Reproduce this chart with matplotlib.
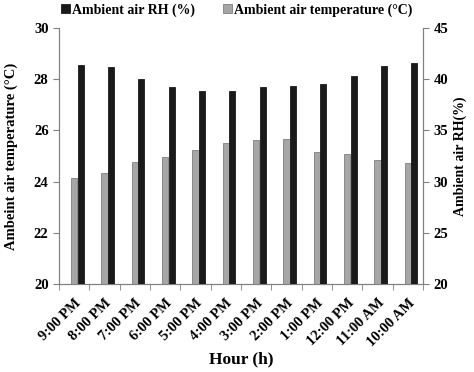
import numpy as np
import matplotlib
matplotlib.use("Agg")
from matplotlib import pyplot as plt

hours = ["9:00 PM", "8:00 PM", "7:00 PM", "6:00 PM", "5:00 PM", "4:00 PM",
         "3:00 PM", "2:00 PM", "1:00 PM", "12:00 PM", "11:00 AM", "10:00 AM"]
temp_c = [24.14, 24.32, 24.77, 24.98, 25.22, 25.49, 25.62, 25.67, 25.16, 25.07, 24.85, 24.72]
rh_pct = [41.40, 41.20, 40.03, 39.28, 38.83, 38.89, 39.25, 39.32, 39.51, 40.29, 41.27, 41.56]

plt.rcParams["font.family"] = "Liberation Serif"
plt.rcParams["font.weight"] = "bold"
plt.rcParams["axes.labelweight"] = "bold"

fig = plt.figure(figsize=(4.74, 3.72), dpi=100)
ax = fig.add_axes([59/474, 1-284/372, 364/474, 256/372])
ax2 = ax.twinx()

x = np.arange(len(hours))
w = 0.2
g = ax.bar(x + 0.5, temp_c, w, color="#a6a6a6", edgecolor="#7f7f7f", linewidth=0.6,
           label="Ambient air temperature (°C)", zorder=3)
b = ax2.bar(x + 0.71, rh_pct, w, color="#1a1a1a", edgecolor="#1a1a1a", linewidth=0.6,
            label="Ambient air RH (%)", zorder=3)

ax.set_xlim(0, len(hours))
ax.set_ylim(20, 30)
ax2.set_ylim(20, 45)
ax.set_yticks([20, 22, 24, 26, 28, 30])
ax2.set_yticks([20, 25, 30, 35, 40, 45])
ax.set_xticks(x + 0.5)
ax.set_xticklabels(hours, rotation=45, ha="right", rotation_mode="anchor", fontsize=10.5)
ax.set_xticks(np.arange(len(hours) + 1), minor=True)
ax.tick_params(axis="x", which="major", length=0, pad=9)
ax.tick_params(axis="x", which="minor", length=4, color="#808080", direction="out")
ax.tick_params(axis="y", labelsize=10.5, length=4, color="#808080")
ax2.tick_params(axis="y", labelsize=10.5, length=4, color="#808080")

for a in (ax, ax2):
    a.spines["top"].set_visible(False)
    for s in ("left", "right", "bottom"):
        a.spines[s].set_color("#808080")
        a.spines[s].set_linewidth(0.8)

ax.set_ylabel("Ambeint air temperature (°C)", fontsize=10.5)
ax.yaxis.set_label_coords(-0.112, 0.5)
ax2.set_ylabel("Ambient air RH(%)", fontsize=10)
ax2.yaxis.set_label_coords(1.085, 0.5)
ax.set_xlabel("Hour (h)", fontsize=12.5)
ax.xaxis.set_label_coords(0.5, -0.265)

fig.legend([b, g], ["Ambient air RH (%)", "Ambient air temperature (°C)"],
           loc="center", bbox_to_anchor=(0.5, 1 - 10/372), ncol=2, frameon=False,
           fontsize=10, handlelength=0.6, handleheight=0.6, handletextpad=0.2,
           columnspacing=2.0, borderaxespad=0)

fig.savefig("out.png", dpi=100)
